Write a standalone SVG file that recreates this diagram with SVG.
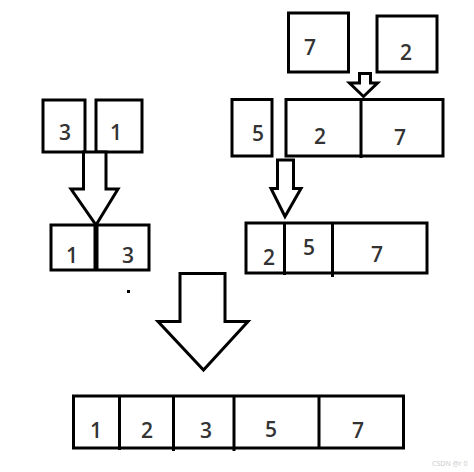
<svg xmlns="http://www.w3.org/2000/svg" width="474" height="472" viewBox="0 0 474 472">
<style>
.b{fill:none;stroke:#000;stroke-width:3}
.d{stroke:#000;stroke-width:3}
.a{fill:#fff;stroke:#000;stroke-width:3;stroke-linejoin:miter}
.t{font-family:"Open Sans","DejaVu Sans",sans-serif;font-weight:600;font-size:21px;fill:#333;text-anchor:middle}
.w{font-family:"Noto Sans","DejaVu Sans",sans-serif;font-size:7px;fill:#ccc}
</style>
<rect width="474" height="472" fill="#fff"/>
<g id="n3a"><rect class="b" x="43" y="100" width="42" height="52"/><text class="t" x="65" y="140">3</text></g>
<g id="n1a"><rect class="b" x="96" y="100" width="46" height="52"/><text class="t" x="116" y="140">1</text></g>
<g id="n7a"><rect class="b" x="288.5" y="13" width="60" height="59"/><text class="t" x="310" y="55">7</text></g>
<g id="n2a"><rect class="b" x="377" y="16" width="60" height="56"/><text class="t" x="406" y="60">2</text></g>
<g id="n5a"><rect class="b" x="232" y="99.5" width="40" height="56.5"/><text class="t" x="258" y="141">5</text></g>
<g id="m27"><rect class="b" x="286" y="99.5" width="157" height="56.5"/><line class="d" x1="361" y1="99.5" x2="361" y2="158"/><text class="t" x="320" y="144">2</text><text class="t" x="400" y="145">7</text></g>
<g id="m13"><rect class="b" x="51" y="225" width="98" height="45"/><line x1="96" y1="224" x2="96" y2="271" stroke="#000" stroke-width="5"/><text class="t" x="72" y="263">1</text><text class="t" x="128" y="263">3</text></g>
<g id="m257"><rect class="b" x="246" y="223" width="181" height="50"/><line class="d" x1="284.5" y1="223" x2="284.5" y2="275"/><line class="d" x1="332.5" y1="223" x2="332.5" y2="277"/><text class="t" x="269" y="265">2</text><text class="t" x="309" y="255">5</text><text class="t" x="377" y="262">7</text></g>
<g id="final"><rect class="b" x="73.5" y="396" width="330" height="52"/><line class="d" x1="119.5" y1="396" x2="119.5" y2="450"/><line class="d" x1="173.5" y1="396" x2="173.5" y2="451"/><line class="d" x1="234" y1="396" x2="234" y2="451"/><line class="d" x1="319" y1="396" x2="319" y2="448"/><text class="t" x="96" y="438">1</text><text class="t" x="147" y="438">2</text><text class="t" x="206" y="438">3</text><text class="t" x="271" y="437">5</text><text class="t" x="358" y="438">7</text></g>
<g id="connectors">
<polygon class="a" points="83.5,152 106,152 106,189 118,189 96,225 71,189 83.5,189"/>
<polygon class="a" points="359.5,73.5 370.5,73.5 370.5,83 377.5,83 363.5,96.5 349.5,83 359.5,83"/>
<polygon class="a" points="277.5,160 293.5,160 293.5,188.5 301,188.5 285,216.5 271,188.5 277.5,188.5"/>
<polygon class="a" points="180,273.5 225,273.5 225,321.5 248,321.5 203.5,370 158,321.5 180,321.5"/>
</g>
<rect x="127" y="290" width="3" height="3" fill="#000"/>
<text class="w" x="432" y="466">CSDN @r 0</text>
</svg>
